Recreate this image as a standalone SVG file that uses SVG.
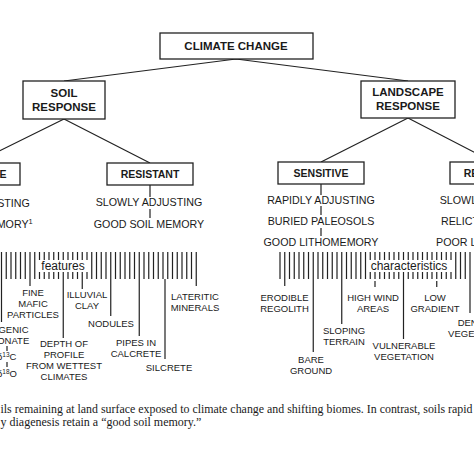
<svg xmlns="http://www.w3.org/2000/svg" width="474" height="474" viewBox="0 0 474 474">
<style>
.box{fill:#fff;stroke:#222;stroke-width:1.3}
.bt{font-family:"Liberation Sans",Arial,sans-serif;font-weight:bold;fill:#1a1a1a;text-anchor:middle}
.t1{font-size:11.5px}
.t2{font-size:10.5px}
.lt{font-family:"Liberation Sans",Arial,sans-serif;font-size:10.7px;fill:#1a1a1a;text-anchor:middle}
.lb{font-family:"Liberation Sans",Arial,sans-serif;font-size:9.5px;fill:#1a1a1a;text-anchor:middle}
.ls{font-family:"Liberation Sans",Arial,sans-serif;font-size:9.5px;fill:#1a1a1a;text-anchor:start}
.fl{font-family:"Liberation Sans",Arial,sans-serif;font-size:12px;fill:#1a1a1a;text-anchor:middle}
.ln{fill:none;stroke:#222;stroke-width:1.2}
.bar{fill:none;stroke:#222;stroke-width:1.2}
.cap{font-family:"Liberation Serif","Times New Roman",serif;font-size:12px;fill:#1a1a1a}
</style>
<rect width="474" height="474" fill="#fff"/>

<g id="connectors">
<path class="ln" d="M236 59L64 81M236 59L408 81"/>
<path class="ln" d="M64 119L-25 163M64 119L150 163"/>
<path class="ln" d="M408 118L321 162M408 118L493 162"/>
<path class="ln" d="M150 185V197M150 209V218"/>
<path class="ln" d="M321 184V195M321 206V215M321 228V236"/>
<path class="ln" d="M1.5 279V322M7 346V351M7 362V367M30 279V286M82.25 279V289M63.25 279V338M110.75 279V316M139.25 279V336M165 279V359M196.25 279V286"/>
<path class="ln" d="M284.75 279V286M313.25 279V352M341.75 279V324M375 281V287M403.5 279V339M436.75 281V287M470 279V313"/>
</g>

<g id="climate-change">
<rect class="box" x="160" y="33" width="153" height="26"/>
<text class="bt t1" x="236" y="50">CLIMATE CHANGE</text>
</g>

<g id="soil-response">
<rect class="box" x="23" y="81" width="82" height="38"/>
<text class="bt t1" x="64" y="97">SOIL</text>
<text class="bt t1" x="64" y="111">RESPONSE</text>
</g>

<g id="landscape-response">
<rect class="box" x="361" y="81" width="94" height="37"/>
<text class="bt t1" x="408" y="96">LANDSCAPE</text>
<text class="bt t1" x="408" y="110">RESPONSE</text>
</g>

<g id="soil-sensitive">
<rect class="box" x="-64" y="163" width="84" height="22"/>
<text class="bt t2" x="-21" y="178">SENSITIVE</text>
<text class="lt" x="-24" y="207">RAPIDLY ADJUSTING</text>
<text class="lt" x="-24" y="228">POOR SOIL MEMORY<tspan font-size="7.5px" dy="-4">1</tspan></text>
</g>

<g id="soil-resistant">
<rect class="box" x="107" y="163" width="86" height="22"/>
<text class="bt t2" x="150" y="178">RESISTANT</text>
<text class="lt" x="149" y="206">SLOWLY ADJUSTING</text>
<text class="lt" x="149" y="228">GOOD SOIL MEMORY</text>
</g>

<g id="landscape-sensitive">
<rect class="box" x="278" y="162" width="86" height="22"/>
<text class="bt t2" x="321" y="177">SENSITIVE</text>
<text class="lt" x="321" y="204">RAPIDLY ADJUSTING</text>
<text class="lt" x="321" y="225">BURIED PALEOSOLS</text>
<text class="lt" x="321" y="246">GOOD LITHOMEMORY</text>
</g>

<g id="landscape-resistant">
<rect class="box" x="450" y="162" width="86" height="22"/>
<text class="bt t2" x="493" y="177">RESISTANT</text>
<text class="lt" x="493" y="204">SLOWLY ADJUSTING</text>
<text class="lt" x="493" y="225">RELICT PALEOSOLS</text>
<text class="lt" x="493" y="246">POOR LITHOMEMORY</text>
</g>

<g id="features">
<path class="bar" d="M1.5 252V279M6.25 252V279M11 252V279M15.75 252V279M20.5 252V279M25.25 252V279M30 252V279M34.75 252V279M91.75 252V279M96.5 252V279M101.25 252V279M106 252V279M110.75 252V279M115.5 252V279M120.25 252V279M125 252V279M129.75 252V279M134.5 252V279M139.25 252V279M144 252V279M148.75 252V279M153.5 252V279M158.25 252V279M163 252V279M167.75 252V279M172.5 252V279M177.25 252V279M182 252V279M186.75 252V279M191.5 252V279M196.25 252V279"/>
<path class="bar" d="M39.5 252V260M44.25 252V260M49 252V260M53.75 252V260M58.5 252V260M63.25 252V260M68 252V260M72.75 252V260M77.5 252V260M82.25 252V260M87 252V260M39.5 272V279M44.25 272V279M49 272V279M53.75 272V279M58.5 272V279M63.25 272V279M68 272V279M72.75 272V279M77.5 272V279M82.25 272V279M87 272V279"/>
<text class="fl" x="63" y="270">features</text>
</g>

<g id="characteristics">
<path class="bar" d="M280 252V279M284.75 252V279M289.5 252V279M294.25 252V279M299 252V279M303.75 252V279M308.5 252V279M313.25 252V279M318 252V279M322.75 252V279M327.5 252V279M332.25 252V279M337 252V279M341.75 252V279M346.5 252V279M351.25 252V279M356 252V279M360.75 252V279M365.5 252V279M455.75 252V279M460.5 252V279M465.25 252V279M470 252V279"/>
<path class="bar" d="M370.25 252V260M375 252V260M379.75 252V260M384.5 252V260M389.25 252V260M394 252V260M398.75 252V260M403.5 252V260M408.25 252V260M413 252V260M417.75 252V260M422.5 252V260M427.25 252V260M432 252V260M436.75 252V260M441.5 252V260M446.25 252V260M451 252V260M370.25 272V279M375 272V279M379.75 272V279M384.5 272V279M389.25 272V279M394 272V279M398.75 272V279M403.5 272V279M408.25 272V279M413 272V279M417.75 272V279M422.5 272V279M427.25 272V279M432 272V279M436.75 272V279M441.5 272V279M446.25 272V279M451 272V279"/>
<text class="fl" x="409" y="270">characteristics</text>
</g>

<g id="pedogenic-carbonate">
<text class="lb" x="0" y="333">PEDOGENIC</text>
<text class="lb" x="0" y="344">CARBONATE</text>
<text class="ls" x="-3" y="360">δ<tspan font-size="6.5px" dy="-3">13</tspan><tspan dy="3">C</tspan></text>
<text class="ls" x="-3" y="377">δ<tspan font-size="6.5px" dy="-3">18</tspan><tspan dy="3">O</tspan></text>
</g>
<g id="fine-mafic"><text class="lb" x="33" y="296">FINE</text><text class="lb" x="33" y="307">MAFIC</text><text class="lb" x="33" y="318">PARTICLES</text></g>
<g id="illuvial-clay"><text class="lb" x="87" y="298">ILLUVIAL</text><text class="lb" x="87" y="309">CLAY</text></g>
<g id="nodules"><text class="lb" x="111" y="327">NODULES</text></g>
<g id="depth-profile"><text class="lb" x="64" y="347">DEPTH OF</text><text class="lb" x="64" y="358">PROFILE</text><text class="lb" x="64" y="369">FROM WETTEST</text><text class="lb" x="64" y="380">CLIMATES</text></g>
<g id="pipes"><text class="lb" x="136" y="346">PIPES IN</text><text class="lb" x="136" y="357">CALCRETE</text></g>
<g id="silcrete"><text class="lb" x="169" y="371">SILCRETE</text></g>
<g id="lateritic"><text class="lb" x="195" y="300">LATERITIC</text><text class="lb" x="195" y="311">MINERALS</text></g>

<g id="erodible"><text class="lb" x="284.5" y="301">ERODIBLE</text><text class="lb" x="284.5" y="312">REGOLITH</text></g>
<g id="bare-ground"><text class="lb" x="311" y="363">BARE</text><text class="lb" x="311" y="374">GROUND</text></g>
<g id="sloping"><text class="lb" x="344" y="334">SLOPING</text><text class="lb" x="344" y="345">TERRAIN</text></g>
<g id="high-wind"><text class="lb" x="373" y="301">HIGH WIND</text><text class="lb" x="373" y="312">AREAS</text></g>
<g id="vulnerable"><text class="lb" x="404" y="349">VULNERABLE</text><text class="lb" x="404" y="360">VEGETATION</text></g>
<g id="low-gradient"><text class="lb" x="435" y="301">LOW</text><text class="lb" x="435" y="312">GRADIENT</text></g>
<g id="dense-vegetation"><text class="lb" x="474" y="326">DENSE</text><text class="lb" x="478" y="337">VEGETATION</text></g>

<g id="caption">
<text class="cap" x="0.5" y="413" textLength="472" lengthAdjust="spacingAndGlyphs">ils remaining at land surface exposed to climate change and shifting biomes. In contrast, soils rapid</text>
<text class="cap" x="0.5" y="426">y diagenesis retain a “good soil memory.”</text>
</g>
</svg>
